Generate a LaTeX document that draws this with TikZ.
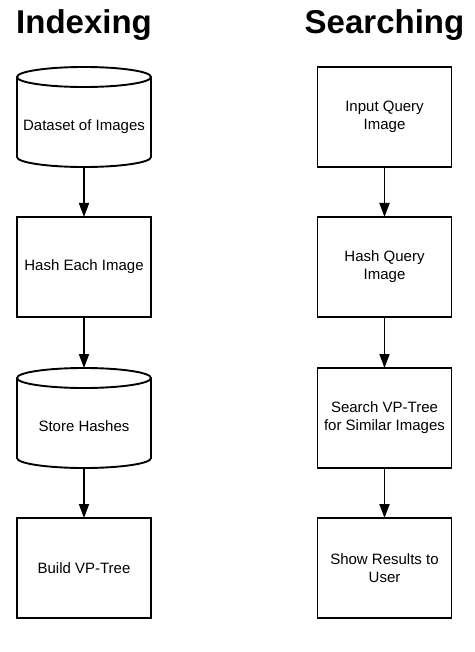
\documentclass[tikz,border=0pt]{standalone}
\usepackage{fontspec}
\setmainfont{Liberation Sans}
\usetikzlibrary{arrows.meta}

\tikzset{
  block/.style={draw, line width=1.9pt, minimum width=134pt, minimum height=100pt,
    outer sep=0pt, align=center, font=\fontsize{15}{18}\selectfont},
  store/.style={block, draw=none, text height=31pt, text depth=4pt},
  title/.style={anchor=base, font=\fontsize{33}{36}\selectfont\bfseries},
  arr/.style={line width=1.9pt, -{Triangle[width=10pt,length=14pt]}}
}

\begin{document}
\begin{tikzpicture}[x=1pt,y=-1pt]
\fill[white] (0,0) rectangle (474,652);
\useasboundingbox (0,0) rectangle (474,652);
\node[title] (idx) at (84,33.5) {Indexing};
\node[title] (srch) at (384.5,33.5) {Searching};

\node[store] (data) at (84,117) {Dataset of Images};
\node[block] (hash) at (84,267) {Hash Each Image};
\node[store] (hashes) at (84,418) {Store Hashes};
\node[block] (tree) at (84,568) {Build VP-Tree};
% cylinders
\foreach \n in {data,hashes}{
  \draw[line width=1.9pt] ([yshift=-10pt]\n.north west) -- ([yshift=10pt]\n.south west)
    arc[start angle=180,end angle=360,x radius=67pt,y radius=10pt]
    -- ([yshift=-10pt]\n.north east)
    arc[start angle=0,end angle=360,x radius=67pt,y radius=10pt];
}

\node[block] (query) at (384.5,117) {Input Query\\Image};
\node[block] (qhash) at (384.5,267) {Hash Query\\Image};
\node[block] (search) at (384.5,418) {Search VP-Tree\\for Similar Images};
\node[block] (results) at (384.5,568) {Show Results to\\User};

\foreach \a/\b in {data/hash,hash/hashes,hashes/tree,query/qhash,qhash/search,search/results}{
  \draw[arr] (\a) -- (\b);
}
\end{tikzpicture}
\end{document}
